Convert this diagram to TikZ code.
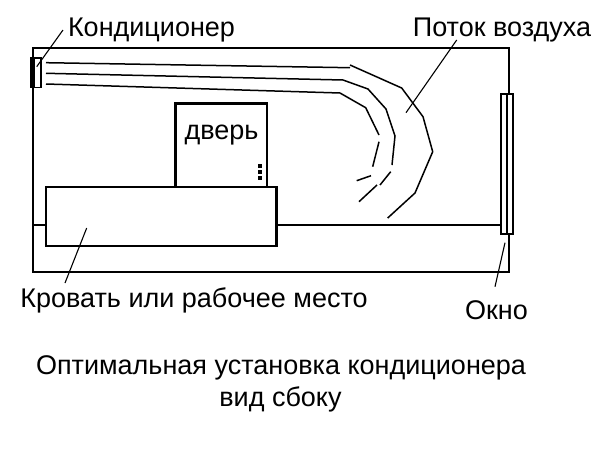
\documentclass[tikz,border=0pt]{standalone}
\usepackage{fontspec}
\setmainfont{Liberation Sans}
\tikzset{
  box/.style={draw=black,fill=white,line width=2.4pt,inner sep=0pt,outer sep=0pt,anchor=north west},
  wall/.style={draw=black,line width=2.4pt},
  flow/.style={draw=black,line width=1.5pt,line join=miter},
  leader/.style={draw=black,line width=1.1pt},
  lbl/.style={font=\fontsize{27}{32}\selectfont,text=black,inner sep=0pt,anchor=center},
  dot/.style={fill=black,inner sep=0pt,minimum size=3.8pt,outer sep=0pt}
}
\begin{document}
\begin{tikzpicture}[x=1pt,y=-1pt]
\useasboundingbox[fill=white] (0,0) rectangle (600,450);
% room
\node[box,fill=none,minimum width=476.5pt,minimum height=224pt] (room) at (32.7,47.7) {};
% floor
\coordinate (floorL) at (32.7,225);
\coordinate (floorR) at (501,225);
\draw[wall,line width=2pt] (floorL) -- (floorR);
% door
\node[box,minimum width=91.7pt,minimum height=83.4pt] (door) at (175.3,103.3) {};
\node[lbl] (doortext) at (221.5,135) {дверь};
\node[dot] (d1) at (260,165.9) {};
\node[dot] (d2) at (260,172) {};
\node[dot] (d3) at (260,178) {};
% bed
\node[box,minimum width=230.6pt,minimum height=59.3pt] (bed) at (45.7,186.7) {};
% conditioner
\node[box,minimum width=10.3pt,minimum height=29.6pt,line width=1.6pt] (cond) at (30.7,57.7) {};
\fill (31,58) rectangle (35,87);
% window
\node[box,minimum width=12.6pt,minimum height=140pt,line width=1.8pt] (window) at (500.7,94) {};
\coordinate (wt) at (507,94);
\coordinate (wb) at (507,234);
\draw[draw=black,line width=1.6pt] (wt) -- (wb);
% air flow
\draw[flow] (46,62.7) -- (350,67.7);
\draw[flow] (350,65) -- (401.7,88) -- (423,116.7) -- (432.7,151.7) -- (415,193) -- (387.7,218);
\draw[flow] (46,73.3) -- (343,80) -- (368,89) -- (386,109) -- (395,136) -- (392,165);
\draw[flow] (390.7,171.7) -- (380,185);
\draw[flow] (377,185) -- (359,201.7);
\draw[flow] (46,84) -- (340,93) -- (365.7,107.7) -- (371.7,120) -- (379,135);
\draw[flow] (379,141.7) -- (372.7,166.7);
\draw[flow] (371,175.7) -- (356.7,180.7);
% labels
\node[lbl] (tcond) at (151.5,30.5) {Кондиционер};
\node[lbl] (tflow) at (502,30.5) {Поток воздуха};
\node[lbl] (tbed) at (194,300) {Кровать или рабочее место};
\node[lbl] (twin) at (496.5,310.5) {Окно};
\node[lbl] (tcap1) at (281,367.5) {Оптимальная установка кондиционера};
\node[lbl] (tcap2) at (280.5,399) {вид сбоку};
% leaders
\coordinate (c1) at (63,30);
\coordinate (c2) at (36.7,66.7);
\coordinate (f1) at (456.7,40);
\coordinate (f2) at (406,112.7);
\coordinate (b1) at (86.7,228);
\coordinate (b2) at (65,283);
\coordinate (w1) at (505,242.7);
\coordinate (w2) at (495,286.7);
\draw[leader] (c1) -- (c2);
\draw[leader] (f1) -- (f2);
\draw[leader] (b1) -- (b2);
\draw[leader] (w1) -- (w2);
\end{tikzpicture}
\end{document}
